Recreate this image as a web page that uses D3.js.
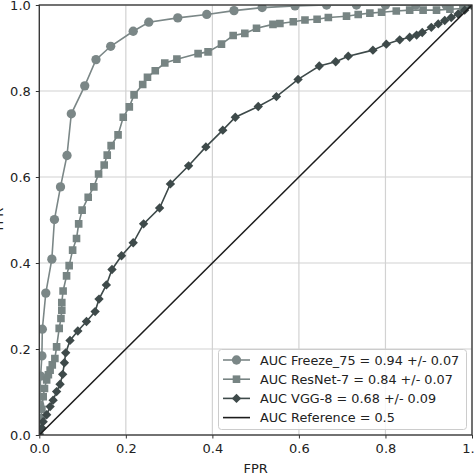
<!DOCTYPE html>
<html><head><meta charset="utf-8">
<script src="https://cdn.jsdelivr.net/npm/d3@7"></script>
<style>html,body{margin:0;padding:0;background:#fff;overflow:hidden}</style>
</head><body><svg id="c" width="474" height="474"></svg>
<script>
const freezeFPR = [0,0.001,0.003,0.006,0.007,0.015,0.029,0.035,0.049,0.064,0.074,0.105,0.131,0.165,0.217,0.253,0.320,0.387,0.450,0.515,0.591,0.664,0.733,0.80,0.87,0.94,1.0];
const freezeTPR = [0,0.07,0.137,0.184,0.246,0.330,0.409,0.501,0.577,0.650,0.747,0.812,0.873,0.904,0.939,0.960,0.970,0.978,0.987,0.994,0.998,1.0,1.0,1.0,1.0,1.0,1.0];

const resnetFPR = [0,0.002,0.004,0.006,0.009,0.012,0.017,0.021,0.025,0.030,0.036,0.040,0.046,0.050,0.052,0.052,0.055,0.063,0.069,0.077,0.086,0.091,0.099,0.113,0.126,0.137,0.150,0.157,0.166,0.182,0.194,0.208,0.219,0.239,0.250,0.268,0.290,0.318,0.367,0.390,0.421,0.448,0.475,0.502,0.540,0.556,0.587,0.614,0.642,0.668,0.710,0.737,0.764,0.791,0.825,0.856,0.887,0.918,0.949,0.979,1.0];
const resnetTPR = [0,0.02,0.04,0.06,0.089,0.108,0.128,0.140,0.151,0.163,0.178,0.205,0.248,0.271,0.290,0.308,0.335,0.370,0.394,0.430,0.457,0.491,0.523,0.553,0.577,0.607,0.628,0.651,0.673,0.698,0.739,0.763,0.791,0.815,0.832,0.847,0.865,0.874,0.887,0.891,0.909,0.929,0.934,0.946,0.955,0.957,0.961,0.965,0.967,0.971,0.974,0.978,0.981,0.983,0.986,0.988,0.988,0.988,0.990,0.992,1.0];

const vggFPR = [0,0.006,0.009,0.017,0.025,0.032,0.040,0.048,0.054,0.058,0.061,0.071,0.089,0.109,0.129,0.138,0.155,0.168,0.190,0.217,0.241,0.278,0.303,0.345,0.385,0.424,0.453,0.506,0.548,0.598,0.647,0.685,0.714,0.771,0.802,0.833,0.856,0.872,0.885,0.906,0.922,0.937,0.952,0.968,0.983,1.0];
const vggTPR = [0,0.016,0.031,0.047,0.066,0.081,0.101,0.118,0.141,0.168,0.191,0.220,0.242,0.264,0.287,0.316,0.349,0.385,0.417,0.447,0.491,0.528,0.584,0.626,0.670,0.709,0.739,0.764,0.787,0.827,0.858,0.868,0.881,0.895,0.909,0.919,0.925,0.930,0.936,0.948,0.956,0.964,0.971,0.979,0.988,1.0];

const refFPR = [0,1];
const refTPR = [0,1];

const ticks = [0,0.2,0.4,0.6,0.8,1.0];
const legendLabels = ["AUC Freeze_75 = 0.94 +/- 0.07","AUC ResNet-7 = 0.84 +/- 0.07","AUC VGG-8 = 0.68 +/- 0.09","AUC Reference = 0.5"];
const xLabel = "FPR", yLabel = "TPR";

const svg = d3.select("#c");
const L = 39.3, R = 472, T = 5, B = 435;
const x = d3.scaleLinear().domain([0,1]).range([L,R]);
const y = d3.scaleLinear().domain([0,1]).range([B,T]);
const font = "DejaVu Sans, sans-serif";

svg.append("defs").append("clipPath").attr("id","clip")
  .append("rect").attr("x",L).attr("y",T).attr("width",R-L).attr("height",B-T);

// grid
const g = svg.append("g");
g.selectAll(".gx").data(ticks).join("line")
  .attr("x1",d=>x(d)).attr("x2",d=>x(d)).attr("y1",T).attr("y2",B)
  .attr("stroke","#d2d2d2").attr("stroke-width",1.2);
g.selectAll(".gy").data(ticks).join("line")
  .attr("y1",d=>y(d)).attr("y2",d=>y(d)).attr("x1",L).attr("x2",R)
  .attr("stroke","#d2d2d2").attr("stroke-width",1.2);

const series = [
  {fpr:freezeFPR,tpr:freezeTPR,color:"#7b8787",marker:"circle",size:68,lw:1.6,rot:0},
  {fpr:resnetFPR,tpr:resnetTPR,color:"#778483",marker:"square",size:58,lw:1.6,rot:0},
  {fpr:vggFPR,tpr:vggTPR,color:"#3e4a4a",marker:"square",size:44,lw:1.6,rot:45},
];
const symMap = {circle:d3.symbolCircle,square:d3.symbolSquare};
const plot = svg.append("g").attr("clip-path","url(#clip)");
const line = d3.line().x(d=>x(d[0])).y(d=>y(d[1]));
series.forEach(s=>{
  const pts = s.fpr.map((f,i)=>[f,s.tpr[i]]);
  plot.append("path").datum(pts).attr("d",line).attr("fill","none")
    .attr("stroke",s.color).attr("stroke-width",s.lw);
  plot.selectAll(null).data(pts).join("path")
    .attr("transform",d=>`translate(${x(d[0])},${y(d[1])}) rotate(${s.rot})`)
    .attr("d",d3.symbol().type(symMap[s.marker]).size(s.size))
    .attr("fill",s.color);
});
plot.append("path").datum(refFPR.map((f,i)=>[f,refTPR[i]])).attr("d",line)
  .attr("fill","none").attr("stroke","#1c1c1c").attr("stroke-width",1.5);

// axes
const xa = svg.append("g").attr("transform",`translate(0,${B})`)
  .call(d3.axisBottom(x).tickValues(ticks).tickFormat(d3.format(".1f")).tickSize(3.5).tickPadding(5.5));
const ya = svg.append("g").attr("transform",`translate(${L},0)`)
  .call(d3.axisLeft(y).tickValues(ticks).tickFormat(d3.format(".1f")).tickSize(3.5).tickPadding(5));
[xa,ya].forEach(a=>{
  a.select(".domain").remove();
  a.selectAll("line").attr("stroke","#333").attr("stroke-width",1);
  a.selectAll("text").attr("font-family",font).attr("font-size",13).attr("fill","#222");
});
// frame
svg.append("rect").attr("x",L).attr("y",T).attr("width",R-L).attr("height",B-T)
  .attr("fill","none").attr("stroke","#333").attr("stroke-width",1.3);

svg.append("text").attr("x",(L+R)/2).attr("y",472.5).attr("text-anchor","middle")
  .attr("font-family",font).attr("font-size",13).attr("fill","#222").text(xLabel);
svg.append("text").attr("transform",`translate(3,${(T+B)/2}) rotate(-90)`).attr("text-anchor","middle")
  .attr("font-family",font).attr("font-size",13).attr("fill","#222").text(yLabel);

// legend
const lg = svg.append("g");
lg.append("rect").attr("x",218.5).attr("y",349.5).attr("width",248).attr("height",80)
  .attr("rx",3).attr("fill","#fff").attr("fill-opacity",0.85).attr("stroke","#cccccc");
const legItems = [...series.map(s=>({color:s.color,marker:s.marker,size:s.size,rot:s.rot})),{color:"#1c1c1c",marker:null}];
legItems.forEach((it,i)=>{
  const yy = 360 + i*19.2;
  lg.append("line").attr("x1",223).attr("x2",250).attr("y1",yy).attr("y2",yy)
    .attr("stroke",it.color).attr("stroke-width",1.6);
  if(it.marker) lg.append("path").attr("transform",`translate(236.5,${yy}) rotate(${it.rot})`)
    .attr("d",d3.symbol().type(symMap[it.marker]).size(it.size)).attr("fill",it.color);
  lg.append("text").attr("x",260).attr("y",yy).attr("dy","0.36em")
    .attr("font-family",font).attr("font-size",12.8).attr("fill","#222").text(legendLabels[i]);
});
</script></body></html>
